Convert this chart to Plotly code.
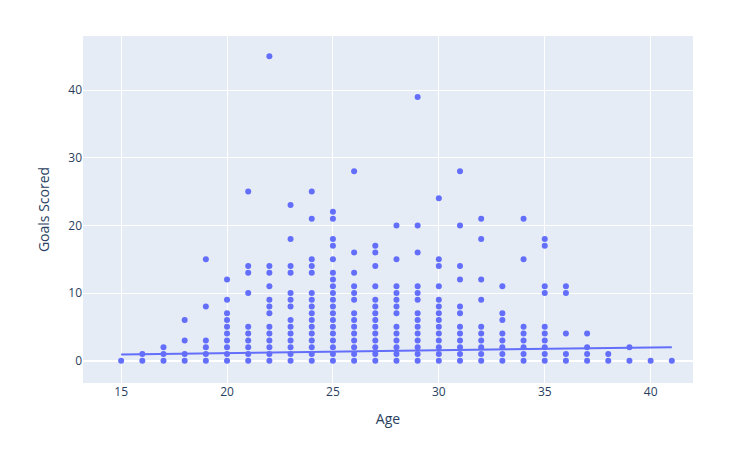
import plotly.graph_objects as go

# Distinct goal values seen at each age (overlapping points collapse into one dot)
goals_by_age = {
    15: [0],
    16: [0, 1],
    17: [0, 1, 2],
    18: [0, 1, 3, 6],
    19: [0, 1, 2, 3, 8, 15],
    20: [0, 1, 2, 3, 4, 5, 6, 7, 9, 12],
    21: [0, 1, 2, 3, 4, 5, 10, 13, 14, 25],
    22: [0, 1, 2, 3, 4, 5, 7, 8, 9, 11, 13, 14, 45],
    23: [0, 1, 2, 3, 4, 5, 6, 8, 9, 10, 13, 14, 18, 23],
    24: [0, 1, 2, 3, 4, 5, 6, 7, 8, 9, 10, 13, 14, 15, 21, 25],
    25: [0, 1, 2, 3, 4, 5, 6, 7, 8, 9, 10, 11, 12, 13, 15, 17, 18, 21, 22],
    26: [0, 1, 2, 3, 4, 5, 6, 7, 9, 10, 11, 13, 16, 28],
    27: [0, 1, 2, 3, 4, 5, 6, 7, 8, 9, 11, 14, 16, 17],
    28: [0, 1, 2, 3, 4, 5, 7, 8, 9, 10, 11, 15, 20],
    29: [0, 1, 2, 3, 4, 5, 6, 7, 9, 10, 11, 16, 20, 39],
    30: [0, 1, 2, 3, 4, 5, 6, 7, 8, 9, 11, 14, 15, 24],
    31: [0, 1, 2, 3, 4, 5, 7, 8, 12, 14, 20, 28],
    32: [0, 1, 2, 3, 4, 5, 9, 12, 18, 21],
    33: [0, 1, 2, 3, 4, 6, 7, 11],
    34: [0, 1, 2, 3, 4, 5, 15, 21],
    35: [0, 1, 2, 3, 4, 5, 10, 11, 17, 18],
    36: [0, 1, 4, 10, 11],
    37: [0, 1, 2, 4],
    38: [0, 1],
    39: [0, 2],
    40: [0],
    41: [0],
}

# OLS trendline endpoints
trend_age = [15, 41]
trend_goals = [0.9, 2.0]

ages = []
goals = []
for a, gs in goals_by_age.items():
    for g in gs:
        ages.append(a)
        goals.append(g)

fig = go.Figure()
fig.add_trace(go.Scatter(x=ages, y=goals, mode="markers",
                         marker=dict(color="#636efa", size=6)))
fig.add_trace(go.Scatter(x=trend_age, y=trend_goals, mode="lines",
                         line=dict(color="#636efa", width=2)))

fig.update_layout(
    width=729, height=452,
    margin=dict(l=75, r=44, t=28, b=77),
    showlegend=False,
    xaxis=dict(title="Age", range=[13.2, 42], tickvals=[15, 20, 25, 30, 35, 40]),
    yaxis=dict(title="Goals Scored", range=[-3.3, 48], tickvals=[0, 10, 20, 30, 40]),
)

fig.write_html("out.html")
